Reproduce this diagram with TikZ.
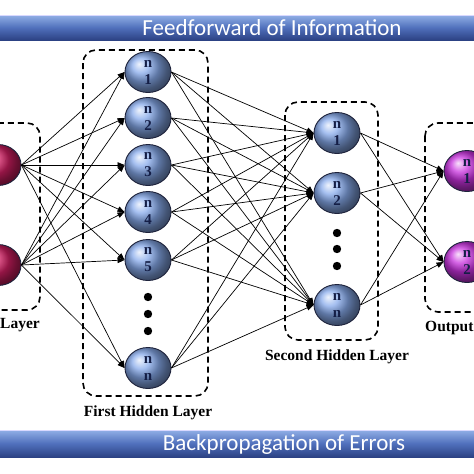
\documentclass[tikz,border=0pt]{standalone}
\usepackage{fontspec}
\setmainfont{Liberation Serif}
\newfontfamily\bannerfont{Carlito}
\usetikzlibrary{shapes.geometric,arrows.meta}
\definecolor{ballblue}{RGB}{135,170,235}
\definecolor{ballred}{RGB}{210,30,98}
\definecolor{ballmag}{RGB}{200,50,222}
\definecolor{ballline}{RGB}{30,35,60}
\definecolor{lbltext}{RGB}{20,30,70}
\definecolor{bantop}{RGB}{145,175,230}
\definecolor{banmid}{RGB}{80,112,188}
\definecolor{banbot}{RGB}{44,66,132}
\tikzset{
  neuron/.style={ellipse, minimum width=46pt, minimum height=41pt, inner sep=0pt,
    draw=ballline, line width=0.9pt, ball color=ballblue, text=lbltext, align=center,
    font=\fontsize{15}{17}\selectfont\bfseries},
  inneuron/.style={neuron, ball color=ballred},
  outneuron/.style={neuron, ball color=ballmag},
  conn/.style={draw=black, line width=0.7pt, -{Triangle[length=7pt,width=5.5pt]}},
  layerbox/.style={draw=black, line width=1.6pt, dash pattern=on 6pt off 4pt, rounded corners=13pt},
  lbl/.style={font=\fontsize{15.5}{18}\selectfont\bfseries, text=black, inner sep=0pt},
  bantext/.style={font=\bannerfont\fontsize{23}{26}\selectfont, text=white, inner sep=0pt},
  dotmark/.style={fill=black}
}
\begin{document}
\begin{tikzpicture}[x=1pt,y=-1pt]
\useasboundingbox (0,0) rectangle (474,474);
\clip (0,0) rectangle (474,474);
\fill[white] (0,0) rectangle (474,474);

% banners
\shade[top color=bantop, bottom color=banbot, middle color=banmid] (0,15) rectangle (474,40);
\draw[white!85!blue, line width=0.8pt] (0,15.5) -- (474,15.5);
\node[bantext] (fftext) at (272,28) {Feedforward of Information};
\shade[top color=bantop, bottom color=banbot, middle color=banmid] (0,430) rectangle (474,457);
\draw[white!85!blue, line width=0.8pt] (0,430.5) -- (474,430.5);
\node[bantext] (bptext) at (284,444) {Backpropagation of Errors};

% dashed layer boxes
\draw[layerbox] (-60,123) rectangle (40,310);
\draw[layerbox] (83,50) rectangle (208,396);
\draw[layerbox] (285,102) rectangle (378,340);
\draw[layerbox] (425,123) rectangle (530,312);

% input layer
\node[inneuron] (i1) at (-2,165) {};
\node[inneuron] (i2) at (-2,265) {};

% first hidden layer
\node[neuron] (h1) at (148,72) {n\\1};
\node[neuron] (h2) at (148,118) {n\\2};
\node[neuron] (h3) at (148,165) {n\\3};
\node[neuron] (h4) at (148,212) {n\\4};
\node[neuron] (h5) at (148,260) {n\\5};
\node[neuron] (h6) at (148,368) {n\\n};
\fill[dotmark] (148,297) circle (4.2pt);
\fill[dotmark] (148,314) circle (4.2pt);
\fill[dotmark] (148,331) circle (4.2pt);

% second hidden layer
\node[neuron] (s1) at (337,133) {n\\1};
\node[neuron] (s2) at (337,193) {n\\2};
\node[neuron] (s3) at (337,305) {n\\n};
\fill[dotmark] (337,233) circle (4.2pt);
\fill[dotmark] (337,249) circle (4.2pt);
\fill[dotmark] (337,266) circle (4.2pt);

% output layer
\node[outneuron] (o1) at (467,171) {n\\1};
\node[outneuron] (o2) at (467,262) {n\\2};

% connections
\foreach \a in {i1,i2}
  \foreach \b in {h1,h2,h3,h4,h5,h6}
    \draw[conn] (\a.east) -- (\b.west);
\foreach \a in {h1,h2,h3,h4,h5,h6}
  \foreach \b in {s1,s2,s3}
    \draw[conn] (\a.east) -- (\b.west);
\foreach \a in {s1,s2,s3}
  \foreach \b in {o1,o2}
    \draw[conn] (\a.east) -- (\b.west);

% labels
\node[lbl, anchor=west] (lin) at (0,325) {Layer};
\node[lbl] (lh1) at (148,413) {First Hidden Layer};
\node[lbl] (lh2) at (337,357) {Second Hidden Layer};
\node[lbl, anchor=west] (lout) at (425,328) {Output};
\end{tikzpicture}
\end{document}
